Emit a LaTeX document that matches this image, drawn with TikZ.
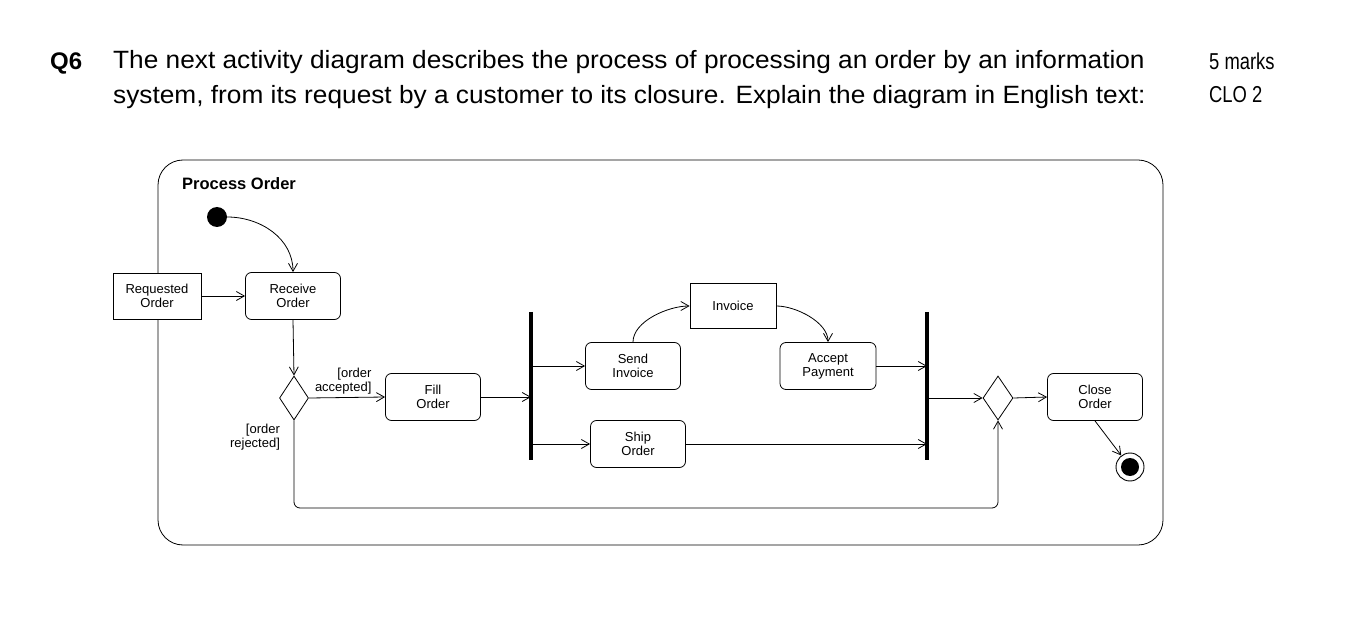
\documentclass[tikz,border=0pt]{standalone}
\usepackage{fontspec}
\setmainfont{Liberation Sans}
\usetikzlibrary{shapes.geometric,arrows.meta}
\begin{document}
\begin{tikzpicture}[x=1pt,y=-1pt,
  act/.style={draw,fill=white,rounded corners=6pt,minimum width=95pt,minimum height=47pt,align=center,font=\fontsize{13}{14}\selectfont,line width=0.8pt},
  obj/.style={draw,fill=white,minimum height=46pt,align=center,font=\fontsize{13}{14}\selectfont,line width=0.8pt},
  dia/.style={draw,diamond,minimum width=29pt,minimum height=44pt,inner sep=0pt,line width=0.8pt},
  bar/.style={line width=4pt},
  fl/.style={-{Straight Barb[length=8pt,width=9pt]},line width=0.8pt},
  lab/.style={font=\fontsize{13}{14}\selectfont,align=right,inner sep=1pt}]
\useasboundingbox (0,0) rectangle (1347,620);
\node[anchor=west,font=\bfseries\fontsize{24}{26}\selectfont,inner sep=0pt] (q) at (50,63) {Q6};
\node[anchor=west,font=\fontsize{25}{35}\selectfont,align=left,inner sep=0pt] (t) at (113,80) {\scalebox{1.05}[1]{The next activity diagram describes the process of processing an order by an information}\\\scalebox{1.05}[1]{system, from its request by a customer to its closure. Explain the diagram in English text:}};
\node[anchor=west,font=\fontsize{23}{33}\selectfont,align=left,inner sep=0pt] (m) at (1209,78) {\scalebox{0.8}[1]{5 marks}\\\scalebox{0.8}[1]{CLO 2}};
\draw[rounded corners=25pt,line width=0.8pt] (158,160) rectangle (1163,545);
\node[anchor=west,font=\bfseries\fontsize{16.5}{18}\selectfont,inner sep=0pt] (po) at (182,184) {Process Order};
\node[circle,fill,minimum size=20pt,inner sep=0pt] (init) at (217,217) {};
\node[obj,minimum width=88pt] (req) at (157,296) {Requested\\Order};
\node[act] (rec) at (293,296) {Receive\\Order};
\node[dia] (d1) at (294,398) {};
\node[act] (fill) at (433,397) {Fill\\Order};
\coordinate (f1) at (531,312); \coordinate (f2) at (531,460);
\draw[bar] (f1) -- (f2);
\node[act] (send) at (633,366) {Send\\Invoice};
\node[act] (ship) at (638,444) {Ship\\Order};
\node[obj,minimum width=86pt,minimum height=45pt] (inv) at (733,306) {Invoice};
\node[act,minimum width=96pt] (acc) at (828,366) {Accept\\Payment};
\coordinate (j1) at (927,312); \coordinate (j2) at (927,460);
\draw[bar] (j1) -- (j2);
\node[dia,minimum width=30pt] (d2) at (998,398) {};
\node[act] (close) at (1095,397) {Close\\Order};
\node[circle,draw,line width=0.9pt,minimum size=28pt,inner sep=0pt] (fin) at (1130,467) {};
\node[circle,fill,minimum size=18pt,inner sep=0pt] at (fin) {};
\draw[fl] (init.east) to[out=0,in=90,looseness=1] (rec.north);
\draw[fl] (req) -- (rec);
\draw[fl] (rec.south) -- (d1.north);
\draw[fl] (d1.east) -- node[lab,above,pos=0.45,yshift=2pt]{[order\\accepted]} (fill.west);
\draw[fl] (fill.east) -- (531,397);
\draw[fl] (531,366) -- (send.west);
\draw[fl] (531,444) -- (ship.west);
\draw[fl] (send.north) to[out=90,in=180,looseness=0.8] (inv.west);
\draw[fl] (inv.east) to[out=0,in=90,looseness=0.8] (acc.north);
\draw[fl] (acc.east) -- (927,366);
\draw[fl] (ship.east) -- (927,444);
\draw[fl] (927,398) -- (d2.west);
\draw[fl] (d2.east) -- (close.west);
\draw[fl] (close.south) -- (fin);
\draw[fl,rounded corners=6pt] (d1.south) -- (294,508) -- (998,508) -- (d2.south);
\node[lab] (rj) at (255,437) {[order\\rejected]};
\end{tikzpicture}
\end{document}
